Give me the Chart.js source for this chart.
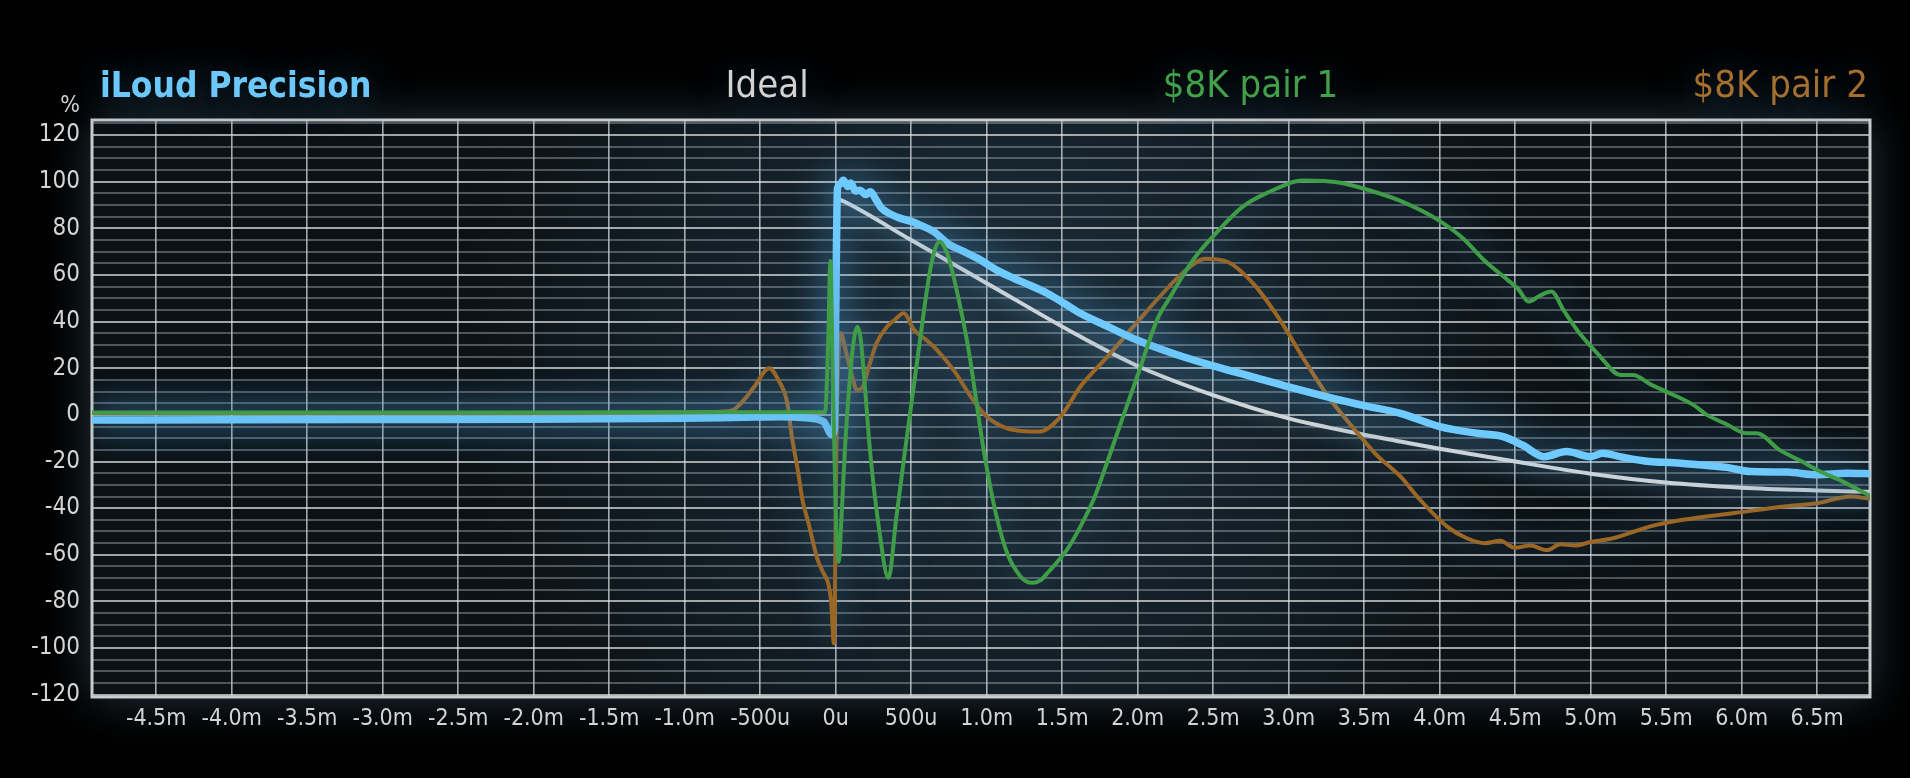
<!DOCTYPE html>
<html>
<head>
<meta charset="utf-8">
<script src="https://cdn.jsdelivr.net/npm/chart.js@4.4.1/dist/chart.umd.min.js"></script>
<style>
  html, body { margin: 0; padding: 0; background: #000; }
  canvas { display: block; }
</style>
</head>
<body>
<canvas id="impulseChart" width="1910" height="778"></canvas>
<script>
const FONT = '"DejaVu Sans Condensed", "Liberation Sans Narrow", "DejaVu Sans", sans-serif';
const TICK_FONT = '"Liberation Sans Narrow", "DejaVu Sans Condensed", sans-serif';

// time in ms, amplitude in %
const iloudTime = [
  -4.925, -4.0, -3.0, -2.0, -1.5, -1.0, -0.6, -0.37, -0.2, -0.08, -0.025, -0.008,
  0.0, 0.012, 0.03, 0.05, 0.08, 0.1, 0.13, 0.16, 0.2, 0.23, 0.27, 0.3, 0.34,
  0.43, 0.5, 0.56, 0.65, 0.74, 0.85, 0.96, 1.07, 1.18, 1.29, 1.4, 1.51, 1.62,
  1.8, 2.0, 2.25, 2.5, 2.75, 3.0, 3.3, 3.5, 3.74, 4.0, 4.25, 4.42, 4.55, 4.69,
  4.84, 5.0, 5.08, 5.2, 5.39, 5.55, 5.72, 5.9, 6.06, 6.3, 6.5, 6.7, 6.85
];
const iloudValue = [
  -2.2, -2.1, -2.0, -1.9, -1.7, -1.4, -1.0, -0.8, -1.2, -2.9, -8.5, -6,
  40, 97, 99, 100.7, 98, 99.5, 96, 96.4, 94.5, 95.7, 92, 89, 87,
  84.3, 83, 81.4, 78.6, 73.6, 70, 66.4, 62, 58.6, 55.5, 52.2, 48, 43.6,
  38, 32, 26, 21, 16.5, 12, 7, 4, 0.7, -5, -7.9, -9.3, -13, -17.9,
  -15.7, -17.9, -16.4, -18, -20, -20.5, -21.4, -22.5, -24.3, -24.5, -25.7, -25, -25.2
];

const idealTime = [0.02, 0.06, 0.5, 1.0, 1.62, 2.0, 2.5, 3.0, 3.5, 3.74, 4.0, 4.5, 5.0, 5.5, 6.0, 6.5, 6.85];
const idealValue = [92.5, 91.4, 75, 56.5, 33.6, 21, 8.5, -1.5, -8.5, -11.4, -14.5, -20, -25.2, -29, -31.2, -32.4, -33];

const pair1Time = [
  -4.925, -2.0, -0.07, -0.05, -0.035, -0.02, 0.0, 0.019, 0.04, 0.061, 0.1, 0.125,
  0.144, 0.165, 0.19, 0.227, 0.29, 0.35, 0.4, 0.46, 0.55, 0.62, 0.66, 0.69, 0.72, 0.75,
  0.82, 0.88, 0.98, 1.06, 1.14, 1.22, 1.26, 1.31, 1.36, 1.4, 1.53, 1.62, 1.71, 1.8, 1.88,
  2.0, 2.13, 2.21, 2.37, 2.53, 2.69, 2.85, 3.1, 3.34, 3.5, 3.74, 3.98, 4.15,
  4.3, 4.45, 4.52, 4.59, 4.66, 4.74, 4.82, 4.91, 5.05, 5.2, 5.28, 5.4, 5.5,
  5.68, 5.77, 5.9, 6.03, 6.1, 6.25, 6.4, 6.5, 6.67, 6.85
];
const pair1Value = [
  1, 1, 1.2, 30, 66, 20, -40, -63, -42, -15, 20, 34,
  37.8, 33, 15, -15, -50, -70, -45, -15, 28, 60, 71.5, 74.3, 72, 67,
  48, 28, -15, -42, -60, -69, -71.3, -72, -70.8, -68, -58, -48, -36, -20, -5,
  17, 41, 50, 66.7, 78.7, 89, 95, 100.5, 99.6, 97, 91.8, 84, 76,
  66, 57.9, 54, 48.6, 51, 52.9, 45, 36.4, 26, 17.1, 17.1, 13, 10,
  4.3, 0, -4, -7.9, -7.9, -15, -20, -23.6, -28.6, -34.7
];

const pair2Time = [
  -4.925, -2.0, -1.0, -0.76, -0.68, -0.6, -0.54, -0.44, -0.38, -0.32, -0.29, -0.25,
  -0.22, -0.18, -0.12, -0.08, -0.05, -0.03, -0.012, 0.008, 0.025, 0.035, 0.06, 0.11,
  0.14, 0.18, 0.22, 0.27, 0.34, 0.39, 0.45, 0.52, 0.6, 0.67, 0.78, 0.91, 1.0,
  1.13, 1.25, 1.35, 1.49, 1.62, 1.8, 2.0, 2.15, 2.3, 2.45, 2.6, 2.77, 2.94,
  3.1, 3.26, 3.42, 3.58, 3.74, 3.87, 4.05, 4.18, 4.3, 4.4, 4.5, 4.6, 4.71,
  4.8, 4.9, 5.0, 5.15, 5.39, 5.61, 5.95, 6.28, 6.5, 6.72, 6.85
];
const pair2Value = [
  0.8, 0.8, 1, 1.4, 2.1, 7, 12, 20, 15, 5, -9.3, -24,
  -36.4, -46.4, -62, -67.9, -72.1, -80, -98, 0, 32, 35, 29.3, 16.4,
  10.7, 12.1, 20.7, 30.7, 37.8, 40.7, 43.6, 36.4, 32.1, 27.9, 19.3, 6.4, -0.7,
  -5.7, -7, -7.1, -0.7, 12.1, 25, 40, 51, 61, 67, 65.5, 56, 41,
  24, 8, -5, -17, -26.4, -36.4, -47.9, -52.9, -55, -54, -57, -56, -58,
  -55.5, -56, -54.5, -52.9, -47.9, -45, -42.1, -39.3, -37.9, -35, -36
];

const seriesNames = ["iLoud Precision", "Ideal", "$8K pair 1", "$8K pair 2"];
const xMin = -4.925, xMax = 6.85, xStep = 0.5;
const yMin = -121, yMax = 126.5, yStep = 5, yLabelEvery = 20;

const pts = (xs, ys) => xs.map((x, i) => ({ x, y: ys[i] }));

const fmtTime = (v) => {
  const r = Math.round(v * 1000) / 1000;
  if (Math.abs(r) < 1) return Math.round(r * 1000) + "u";
  return r.toFixed(1) + "m";
};

const backdrop = {
  id: "backdrop",
  beforeDraw(chart) {
    const { ctx, chartArea: a, width, height } = chart;
    ctx.save();
    ctx.fillStyle = "#000";
    ctx.fillRect(0, 0, width, height);
    ctx.shadowColor = "rgba(70,100,120,0.55)";
    ctx.shadowBlur = 45;
    ctx.fillStyle = "#0b1115";
    ctx.fillRect(a.left, a.top, a.right - a.left, a.bottom - a.top);
    ctx.restore();
    ctx.save();
    const g = ctx.createRadialGradient(1000, 360, 20, 1000, 360, 560);
    g.addColorStop(0, "rgba(45,75,95,0.5)");
    g.addColorStop(1, "rgba(45,75,95,0)");
    ctx.fillStyle = g;
    ctx.fillRect(a.left, a.top, a.right - a.left, a.bottom - a.top);
    ctx.restore();
  },
  beforeDatasetsDraw(chart) {
    const { ctx, chartArea: a } = chart;
    ctx.save();
    ctx.strokeStyle = "#c9cccd";
    ctx.lineWidth = 3;
    ctx.strokeRect(a.left, a.top, a.right - a.left, a.bottom - a.top);
    ctx.restore();
  },
  afterDraw(chart) {
    const { ctx, chartArea: a } = chart;
    ctx.save();
    // "%" unit over the y labels
    ctx.fillStyle = "#d4d4d4";
    ctx.font = "23px " + TICK_FONT;
    ctx.textAlign = "right";
    ctx.textBaseline = "alphabetic";
    ctx.fillText("%", a.left - 12, 112);
    // series names, spread across the top
    const items = chart.data.datasets.map((ds, i) => {
      const font = (i === 0 ? "bold 35px " : "38px ") + FONT;
      ctx.font = font;
      return { text: ds.label, font, color: ds.titleColor, w: ctx.measureText(ds.label).width };
    });
    const left = a.left + 8, right = a.right - 2;
    const total = items.reduce((s, it) => s + it.w, 0);
    const gap = (right - left - total) / (items.length - 1);
    let x = left;
    ctx.textAlign = "left";
    ctx.shadowColor = "rgba(50,95,125,0.85)";
    ctx.shadowBlur = 40;
    items.forEach((it) => {
      ctx.font = it.font;
      ctx.fillStyle = it.color;
      ctx.fillText(it.text, x, 97);
      x += it.w + gap;
    });
    ctx.restore();
  }
};

const glow = {
  id: "glow",
  beforeDatasetDraw(chart, args) {
    const ds = chart.data.datasets[args.index];
    chart.ctx.save();
    chart.ctx.shadowColor = ds.glowColor;
    chart.ctx.shadowBlur = ds.glowBlur;
  },
  afterDatasetDraw(chart) {
    chart.ctx.restore();
  }
};

const lineSet = (label, data, color, width, order, glowColor, glowBlur, titleColor) => ({
  label, data, borderColor: color, borderWidth: width, order,
  pointRadius: 0, fill: false, cubicInterpolationMode: "monotone",
  borderJoinStyle: "round", borderCapStyle: "round",
  glowColor, glowBlur, titleColor
});

new Chart(document.getElementById("impulseChart"), {
  type: "line",
  data: {
    datasets: [
      lineSet(seriesNames[0], pts(iloudTime, iloudValue), "#6fcbff", 7.5, 1, "rgba(90,185,255,1)", 38, "#6cc8f8"),
      lineSet(seriesNames[1], pts(idealTime, idealValue), "#d6d6d6", 4, 3, "rgba(120,150,170,0.7)", 22, "#d2d2d2"),
      lineSet(seriesNames[2], pts(pair1Time, pair1Value), "#3f9c47", 4, 0, "rgba(65,115,150,0.95)", 32, "#42a049"),
      lineSet(seriesNames[3], pts(pair2Time, pair2Value), "#9c6624", 4, 2, "rgba(65,115,150,0.95)", 32, "#a46f2f")
    ]
  },
  options: {
    responsive: false,
    animation: false,
    events: [],
    layout: { padding: { top: 120, right: 40, left: 0, bottom: 0 } },
    plugins: { legend: { display: false }, tooltip: { enabled: false } },
    scales: {
      x: {
        type: "linear",
        min: xMin,
        max: xMax,
        afterFit: (s) => { s.height = 81; },
        border: { display: false },
        grid: {
          drawTicks: false,
          color: "rgba(225,228,230,0.72)",
          lineWidth: 1.6
        },
        ticks: {
          stepSize: xStep,
          includeBounds: false,
          autoSkip: false,
          maxRotation: 0,
          padding: 8,
          color: "#d4d4d4",
          font: { family: TICK_FONT, size: 23 },
          callback: (v) => fmtTime(v)
        }
      },
      y: {
        type: "linear",
        min: yMin,
        max: yMax,
        afterFit: (s) => { s.width = 92; },
        border: { display: false },
        grid: {
          drawTicks: false,
          color: (c) => (c.tick && c.tick.value % yLabelEvery === 0) ? "rgba(225,228,230,0.7)" : "rgba(190,198,204,0.38)",
          lineWidth: 2
        },
        ticks: {
          stepSize: yStep,
          includeBounds: false,
          autoSkip: false,
          padding: 12,
          color: "#d4d4d4",
          font: { family: TICK_FONT, size: 24 },
          callback: (v) => (v % yLabelEvery === 0 ? String(v) : "")
        }
      }
    }
  },
  plugins: [backdrop, glow]
});
</script>
</body>
</html>
